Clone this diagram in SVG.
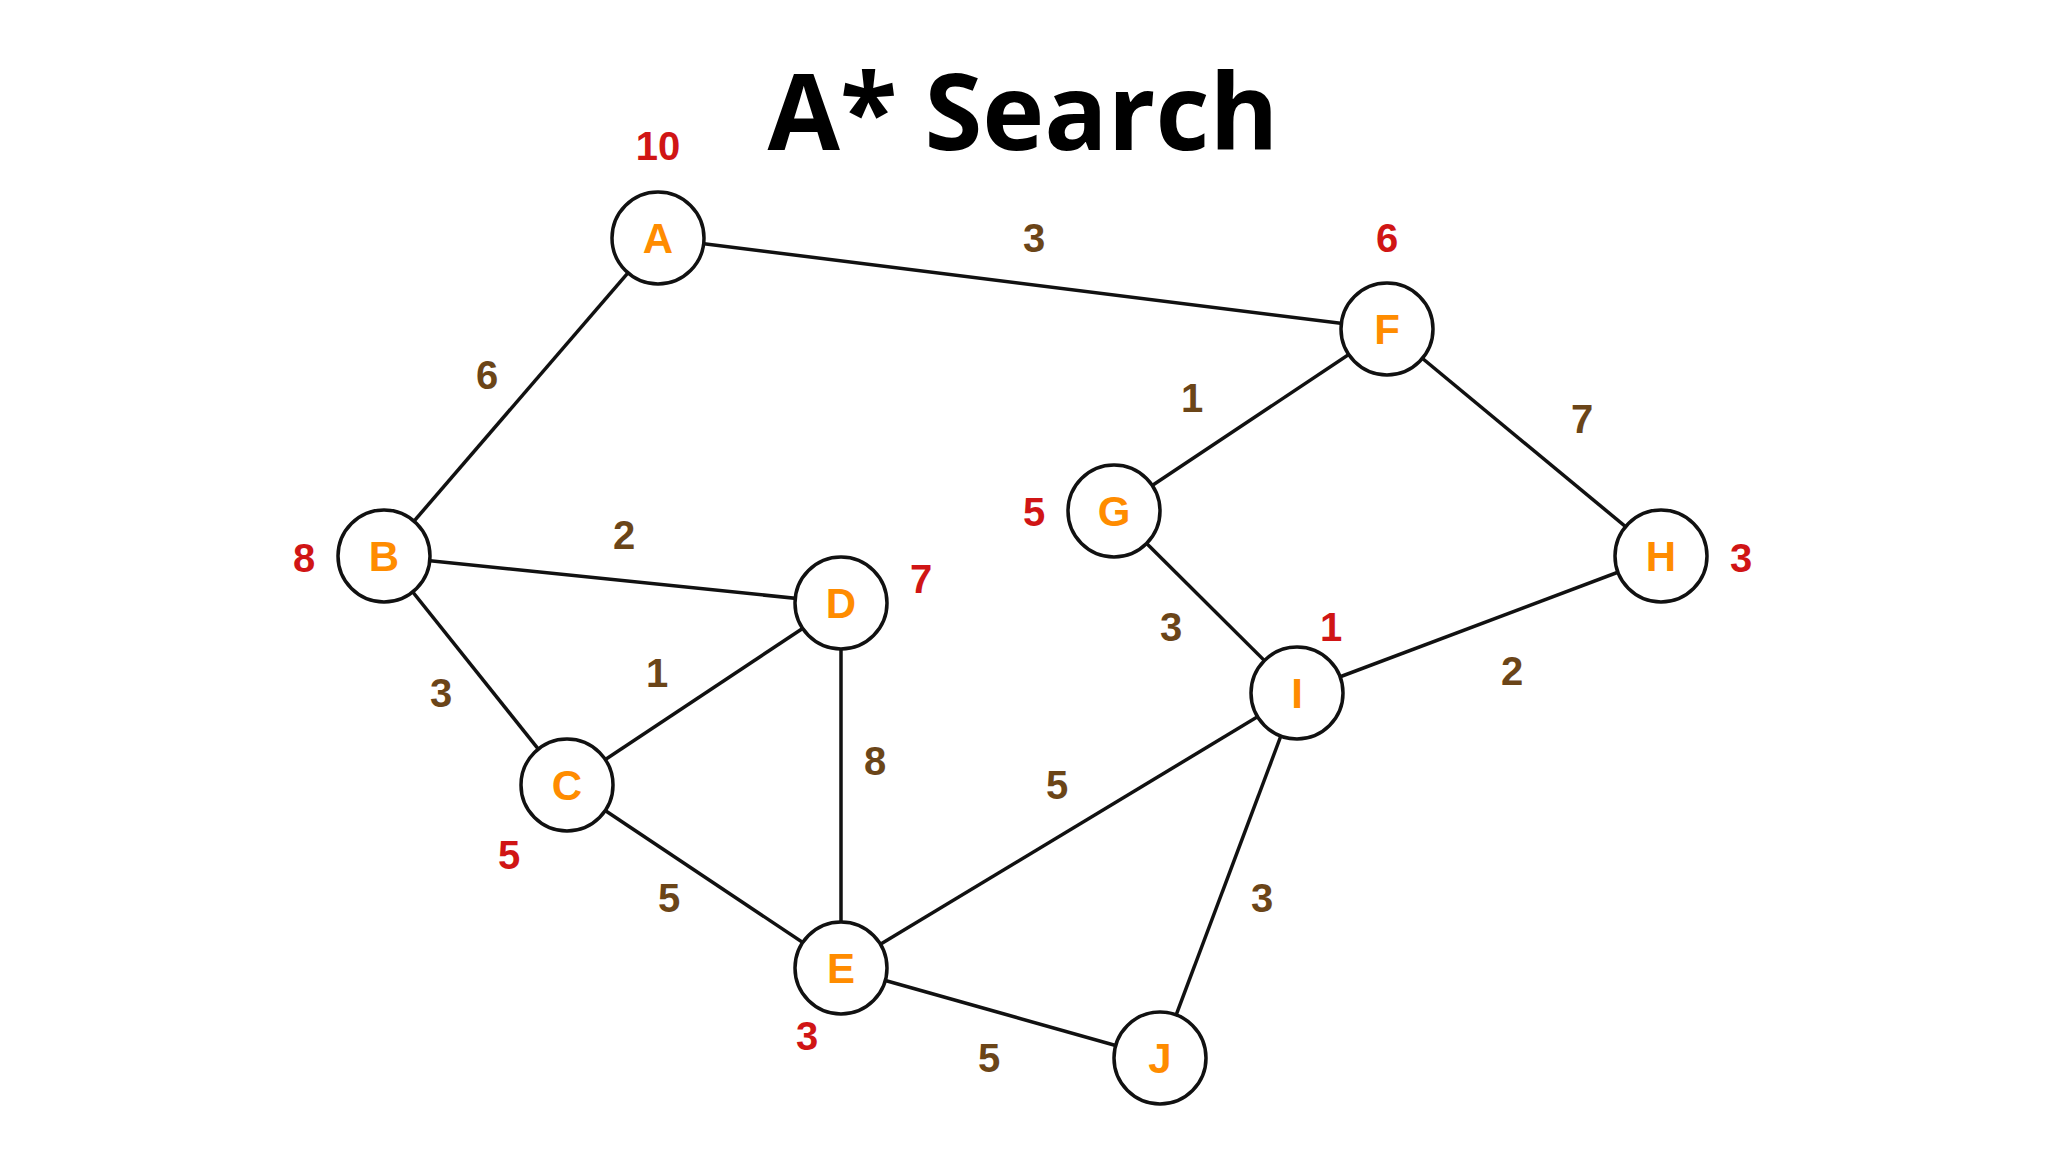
<svg xmlns="http://www.w3.org/2000/svg" width="2048" height="1152" viewBox="0 0 2048 1152">
<style>
.n circle{fill:#fff;stroke:#111;stroke-width:3.5}
.n text{fill:#ff8c00;font:bold 42px "Liberation Sans",Arial,sans-serif;text-anchor:middle;dominant-baseline:central}
.h{fill:#d01515;font:bold 40px "Liberation Sans",Arial,sans-serif;text-anchor:middle;dominant-baseline:central}
.w{fill:#6b4518;font:bold 40px "Liberation Sans",Arial,sans-serif;text-anchor:middle;dominant-baseline:central}
#edges line{stroke:#111;stroke-width:3.5}
</style>
<rect width="2048" height="1152" fill="#fff"/>
<text x="1023" y="150" font-family="'Open Sans',sans-serif" font-weight="bold" font-size="105" text-anchor="middle" fill="#000">A* Search</text>
<g id="edges">
<line x1="658" y1="238" x2="1387" y2="329"/>
<line x1="658" y1="238" x2="384" y2="556"/>
<line x1="1387" y1="329" x2="1114" y2="511"/>
<line x1="1387" y1="329" x2="1661" y2="556"/>
<line x1="384" y1="556" x2="841" y2="603"/>
<line x1="384" y1="556" x2="567" y2="785"/>
<line x1="841" y1="603" x2="567" y2="785"/>
<line x1="841" y1="603" x2="841" y2="968"/>
<line x1="1114" y1="511" x2="1297" y2="693"/>
<line x1="1661" y1="556" x2="1297" y2="693"/>
<line x1="1297" y1="693" x2="841" y2="968"/>
<line x1="1297" y1="693" x2="1160" y2="1058"/>
<line x1="567" y1="785" x2="841" y2="968"/>
<line x1="841" y1="968" x2="1160" y2="1058"/>
</g>
<g id="weights">
<text class="w" x="1034" y="238">3</text>
<text class="w" x="487" y="375">6</text>
<text class="w" x="1192" y="398">1</text>
<text class="w" x="1582" y="419">7</text>
<text class="w" x="624" y="535">2</text>
<text class="w" x="1171" y="627">3</text>
<text class="w" x="441" y="693">3</text>
<text class="w" x="657" y="673">1</text>
<text class="w" x="875" y="761">8</text>
<text class="w" x="1057" y="785">5</text>
<text class="w" x="1512" y="671">2</text>
<text class="w" x="1262" y="898">3</text>
<text class="w" x="669" y="898">5</text>
<text class="w" x="989" y="1058">5</text>
</g>
<g id="A" class="n"><circle cx="658" cy="238" r="46"/><text x="658" y="238">A</text></g>
<g id="F" class="n"><circle cx="1387" cy="329" r="46"/><text x="1387" y="329">F</text></g>
<g id="B" class="n"><circle cx="384" cy="556" r="46"/><text x="384" y="556">B</text></g>
<g id="D" class="n"><circle cx="841" cy="603" r="46"/><text x="841" y="603">D</text></g>
<g id="G" class="n"><circle cx="1114" cy="511" r="46"/><text x="1114" y="511">G</text></g>
<g id="H" class="n"><circle cx="1661" cy="556" r="46"/><text x="1661" y="556">H</text></g>
<g id="I" class="n"><circle cx="1297" cy="693" r="46"/><text x="1297" y="693">I</text></g>
<g id="C" class="n"><circle cx="567" cy="785" r="46"/><text x="567" y="785">C</text></g>
<g id="E" class="n"><circle cx="841" cy="968" r="46"/><text x="841" y="968">E</text></g>
<g id="J" class="n"><circle cx="1160" cy="1058" r="46"/><text x="1160" y="1058">J</text></g>
<g id="heuristics">
<text class="h" x="658" y="146">10</text>
<text class="h" x="1387" y="238">6</text>
<text class="h" x="304" y="558">8</text>
<text class="h" x="921" y="579">7</text>
<text class="h" x="1034" y="512">5</text>
<text class="h" x="1741" y="558">3</text>
<text class="h" x="1331" y="627">1</text>
<text class="h" x="509" y="855">5</text>
<text class="h" x="807" y="1036">3</text>
</g>
</svg>
